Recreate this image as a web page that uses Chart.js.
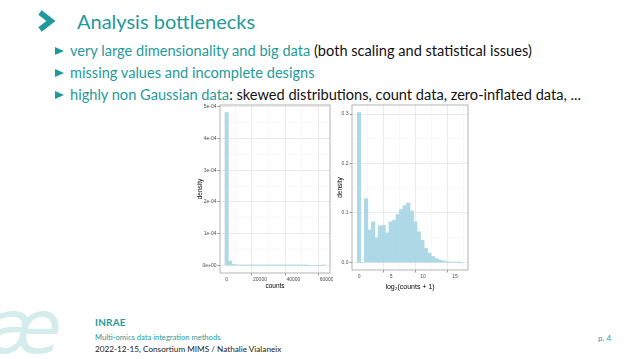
<!DOCTYPE html>
<html>
<head>
<meta charset="utf-8">
<script src="https://cdn.jsdelivr.net/npm/chart.js@4.4.1/dist/chart.umd.min.js"></script>
<style>
  html,body{margin:0;padding:0;background:#fff;}
  body{width:638px;height:359px;overflow:hidden;position:relative;font-family:Lato,"Open Sans",sans-serif;color:#111;}
  .abs{position:absolute;white-space:nowrap;}
  .teal{color:#1f9a9c;}
  #title{left:77px;top:9px;font-size:20px;line-height:24px;color:#1f9a9c;}
  .bullet{left:70px;font-size:14.6px;line-height:18px;}
  .tri{position:absolute;left:55px;width:0;height:0;border-left:9px solid #1f9a9c;border-top:4.5px solid transparent;border-bottom:4.5px solid transparent;}
  #b1{top:42px;} #b2{top:64px;} #b3{top:86px;}
  #t1{top:47px;} #t2{top:69px;} #t3{top:91px;}
  #logo{left:95px;top:316px;font-size:10px;font-weight:bold;color:#1f9a9c;letter-spacing:0.2px;}
  #f1{left:95px;top:332px;font-size:7.6px;line-height:10px;color:#1f9a9c;}
  #f2{left:95px;top:344px;font-size:8.2px;line-height:10px;color:#222;}
  #page{left:598px;top:333px;font-size:8px;line-height:10px;color:#1f9a9c;}
  #ae{left:-12px;top:282px;font-size:74px;line-height:90px;color:#d5ecec;font-style:italic;font-family:"DejaVu Sans",sans-serif;}
  canvas{position:absolute;}
</style>
</head>
<body>
<div id="ae" class="abs">æ</div>
<svg class="abs" style="left:0;top:0" width="70" height="40"><polyline points="40,12.5 51,21 40,29.5" fill="none" stroke="#1f9a9c" stroke-width="5.5" stroke-linejoin="miter"/></svg>
<div id="title" class="abs">Analysis bottlenecks</div>
<div class="tri" id="t1"></div><div class="tri" id="t2"></div><div class="tri" id="t3"></div>
<div id="b1" class="abs bullet"><span class="teal">very large dimensionality and big data</span> (both scaling and statistical issues)</div>
<div id="b2" class="abs bullet"><span class="teal">missing values and incomplete designs</span></div>
<div id="b3" class="abs bullet"><span class="teal">highly non Gaussian data</span>: skewed distributions, count data, zero-inflated data, ...</div>

<canvas id="c1" width="137" height="190" style="left:196px;top:100px"></canvas>
<canvas id="c2" width="134" height="191" style="left:336px;top:100px"></canvas>

<div id="logo" class="abs">INRAE</div>
<div id="f1" class="abs">Multi-omics data integration methods</div>
<div id="f2" class="abs">2022-12-15, Consortium MIMS / Nathalie Vialaneix</div>
<div id="page" class="abs">p. 4</div>

<script>
// ---------------- data ----------------
const countsBins = [0,2000,4000,6000,8000,10000,12000,14000,16000,18000,20000,22000,24000,26000,28000,30000,32000,34000,36000,38000,40000,42000,44000,46000,48000,50000,52000,54000,56000,58000];
const countsDensity = [4.82e-4,1.3e-5,3.5e-6,1.6e-6,8e-7,5e-7,3e-7,2e-7,1.5e-7,1e-7,8e-8,6e-8,5e-8,4e-8,3e-8,2e-8,2e-8,1e-8,1e-8,1e-8,1e-8,5e-9,5e-9,5e-9,5e-9,0,0,0,0,5e-9];
const countsXTicks = [0,20000,40000,60000];
const countsXLabels = ["0","20000","40000","60000"];
const countsXMinor = [10000,30000,50000];
const countsYTicks = [0,1e-4,2e-4,3e-4,4e-4,5e-4];
const countsYLabels = ["0e+00","1e-04","2e-04","3e-04","4e-04","5e-04"];
const countsYMinor = [0.5e-4,1.5e-4,2.5e-4,3.5e-4,4.5e-4];

const logBins = [0,0.549,1.098,1.647,2.196,2.745,3.294,3.843,4.392,4.941,5.490,6.039,6.588,7.137,7.686,8.235,8.784,9.333,9.882,10.431,10.980,11.529,12.078,12.627,13.176,13.725,14.274,14.823,15.372,15.921];
const logDensity = [0.303,0,0.129,0.066,0.082,0.050,0.074,0.075,0.060,0.082,0.085,0.097,0.107,0.115,0.120,0.104,0.082,0.062,0.045,0.029,0.019,0.012,0.008,0.005,0.003,0.002,0.001,0.0005,0.0002,0.0001];
const logXTicks = [0,5,10,15];
const logXLabels = ["0","5","10","15"];
const logXMinor = [2.5,7.5,12.5];
const logYTicks = [0,0.1,0.2,0.3];
const logYLabels = ["0.0","0.1","0.2","0.3"];
const logYMinor = [0.05,0.15,0.25];

// ---------------- helpers ----------------
const FILL = '#add8e6';
const FONT = 'Liberation Sans, Arial, sans-serif';
const near = (a,b) => Math.abs(a-b) < 1e-12;
const isMajor = (majors, c) => !!(c && c.tick) && majors.some(m => near(m, c.tick.value));

const panelBorder = {
  id:'panelBorder',
  afterDatasetsDraw(chart){
    const {ctx, chartArea:a} = chart;
    ctx.save();
    ctx.strokeStyle = '#a0a0a0';
    ctx.lineWidth = 0.8;
    ctx.strokeRect(a.left, a.top, a.right-a.left, a.bottom-a.top);
    ctx.restore();
  }
};

function axis(opts){
  const {majors, labels, minors, min, max, size, horizontal, title, titleSize} = opts;
  return {
    type:'linear', min, max, offset:false,
    afterBuildTicks(s){
      s.ticks = majors.concat(minors).sort((a,b)=>a-b).map(v=>({value:v}));
    },
    afterFit(s){
      if (horizontal){ s.height = size; s.paddingLeft = 0; s.paddingRight = 0; }
      else { s.width = size; s.paddingTop = 0; s.paddingBottom = 0; }
    },
    ticks:{
      autoSkip:false, maxRotation:0, minRotation:0, padding:1,
      color:'#4d4d4d', font:{size:5, family:FONT},
      callback(v){ const i = majors.findIndex(m=>near(m,v)); return i>=0 ? labels[i] : ''; }
    },
    grid:{
      drawTicks:true, tickLength:2.5,
      color: c => isMajor(majors, c) ? '#e4e4e4' : '#f1f1f1',
      lineWidth: c => isMajor(majors, c) ? 0.8 : 0.5,
      tickColor: c => isMajor(majors, c) ? '#555' : 'rgba(0,0,0,0)',
      tickWidth: 0.6
    },
    border:{display:false},
    title:{display:true, text:title, color:'#000', font:{size:titleSize, family:FONT}, padding:0}
  };
}

function histogram(id, bins, dens, xOpts, yOpts, pad){
  new Chart(document.getElementById(id), {
    type:'bar',
    data:{datasets:[{
      data: bins.map((x,i)=>({x, y:dens[i]})),
      backgroundColor: FILL, borderWidth:0,
      barPercentage:1, categoryPercentage:1
    }]},
    options:{
      responsive:false, animation:false,
      layout:{padding:pad},
      plugins:{legend:{display:false}, tooltip:{enabled:false}},
      scales:{ x: axis(xOpts), y: axis(yOpts) }
    },
    plugins:[panelBorder]
  });
}

histogram('c1', countsBins, countsDensity,
  {majors:countsXTicks, labels:countsXLabels, minors:countsXMinor, min:-4000, max:62000, size:17, horizontal:true, title:'counts', titleSize:6.5},
  {majors:countsYTicks, labels:countsYLabels, minors:countsYMinor, min:-0.241e-4, max:5.061e-4, size:24, horizontal:false, title:'density', titleSize:6.5},
  {top:5, right:3, left:0, bottom:0});

histogram('c2', logBins, logDensity,
  {majors:logXTicks, labels:logXLabels, minors:logXMinor, min:-1.1, max:17.02, size:21, horizontal:true, title:'log\u2082(counts + 1)', titleSize:7},
  {majors:logYTicks, labels:logYLabels, minors:logYMinor, min:-0.0152, max:0.3182, size:16, horizontal:false, title:'density', titleSize:6.5},
  {top:5, right:2, left:0, bottom:0});
</script>
</body>
</html>
